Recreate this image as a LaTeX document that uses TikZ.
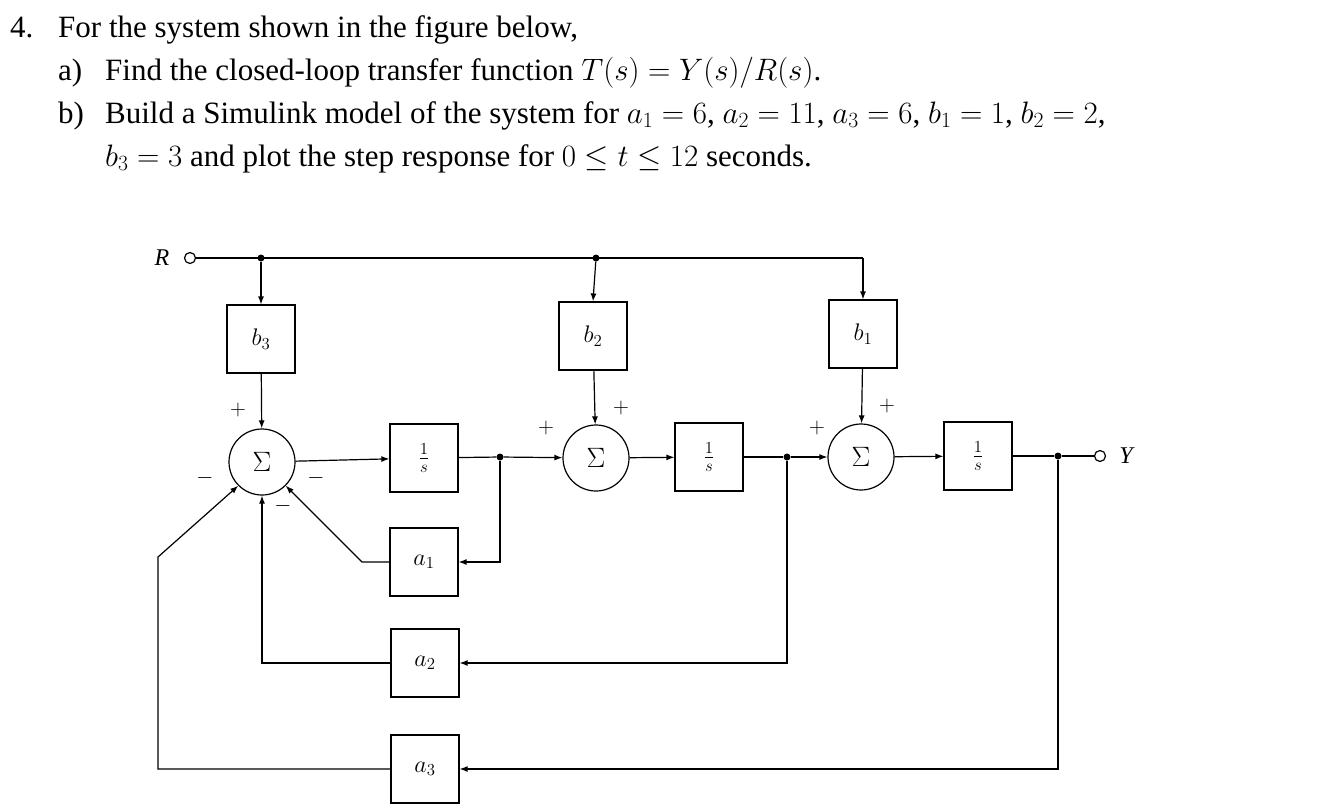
\RequirePackage{fix-cm}
\documentclass[tikz,border=0pt]{standalone}
\usepackage{fontspec}
\setmainfont{Liberation Serif}
\usetikzlibrary{arrows.meta}
\begin{document}
\begin{tikzpicture}[x=1pt,y=-1pt,
 blk/.style={draw,line width=1.2pt,minimum width=68pt,minimum height=68pt,inner sep=0pt,font=\fontsize{24}{26}\selectfont},
 sm/.style={draw,circle,line width=1.2pt,minimum size=66pt,inner sep=0pt,font=\fontsize{28}{30}\selectfont},
 ln/.style={line width=1.2pt},
 ar/.style={ln,-{Latex[length=8pt,width=6pt]}},
 dot/.style={circle,fill,inner sep=0pt,minimum size=7pt},
 term/.style={circle,draw,line width=1.2pt,inner sep=0pt,minimum size=11pt},
 sg/.style={font=\fontsize{22}{22}\selectfont},
 txt/.style={anchor=base west,inner sep=0pt,font=\fontsize{31}{34}\selectfont}]
\useasboundingbox (0,0) rectangle (1332,811);
\node[txt] (t0) at (10,37) {4.};
\node[txt] (t1) at (58,37) {For the system shown in the figure below,};
\node[txt] (t2) at (58,80) {a)};
\node[txt] (t3) at (105,80) {Find the closed-loop transfer function $T(s)=Y(s)/R(s)$.};
\node[txt] (t4) at (58,123) {b)};
\node[txt] (t5) at (105,123) {Build a Simulink model of the system for $a_1=6$, $a_2=11$, $a_3=6$, $b_1=1$, $b_2=2$,};
\node[txt] (t6) at (105,166) {$b_3=3$ and plot the step response for $0\le t\le 12$ seconds.};

\node[term] (R) at (190,258) {};
\node[font=\fontsize{24}{26}\selectfont\itshape] (Rl) at (162,258) {R};
\node[blk] (b3) at (261,339) {$b_3$};
\node[blk] (b2) at (593,336) {$b_2$};
\node[blk] (b1) at (863,334) {$b_1$};
\node[sm] (s1) at (262,462) {$\Sigma$};
\node[sm] (s2) at (596,458) {$\Sigma$};
\node[sm] (s3) at (861,457) {$\Sigma$};
\node[blk] (i1) at (424,458) {$\frac{1}{s}$};
\node[blk] (i2) at (709,457) {$\frac{1}{s}$};
\node[blk] (i3) at (978,456) {$\frac{1}{s}$};
\node[blk] (a1) at (424,562) {$a_1$};
\node[blk] (a2) at (425,663) {$a_2$};
\node[blk] (a3) at (425,769) {$a_3$};
\node[dot] (d1) at (261,258) {};
\node[dot] (d2) at (596,258) {};
\coordinate (c3) at (863,258);
\node[dot] (n1) at (500,457) {};
\node[dot] (n2) at (787,457) {};
\node[dot] (n3) at (1058,456) {};
\node[term] (Y) at (1100,456) {};
\node[font=\fontsize{24}{26}\selectfont\itshape] (Yl) at (1126,456) {Y};

\draw[ln] (R) -- (c3);
\draw[ar] (d1) -- (b3); \draw[ar] (d2) -- (b2|-b2.north); \draw[ar] (c3) -- (b1);
\draw[ar] (b3) -- (s1); \draw[ar] (b2) -- (s2); \draw[ar] (b1) -- (s3);
\draw[ar] (s1) -- (i1);
\draw[ln] (i1) -- (n1); \draw[ar] (n1) -- (s2);
\draw[ar] (s2) -- (i2);
\draw[ln] (i2) -- (n2); \draw[ar] (n2) -- (s3);
\draw[ar] (s3) -- (i3);
\draw[ln] (i3) -- (n3); \draw[ln] (n3) -- (Y);
\draw[ar] (n1) |- (a1);
\draw[ar] (n2) |- (a2);
\draw[ar] (n3) |- (a3);
\draw[ar] (a1.west) -- (362,562) -- (s1.-45);
\draw[ar] (a2.west) -| (s1.south);
\draw[ar] (a3.west) -- (158,769) -- (158,557) -- (s1.-135);

\node[sg] (p1) at (238,410) {$+$};
\node[sg] (m1) at (205,478) {$-$};
\node[sg] (m2) at (316,478) {$-$};
\node[sg] (m3) at (283,506) {$-$};
\node[sg] (p2) at (546,428) {$+$};
\node[sg] (p3) at (621,408) {$+$};
\node[sg] (p4) at (817,428) {$+$};
\node[sg] (p5) at (887,406) {$+$};
\end{tikzpicture}
\end{document}
